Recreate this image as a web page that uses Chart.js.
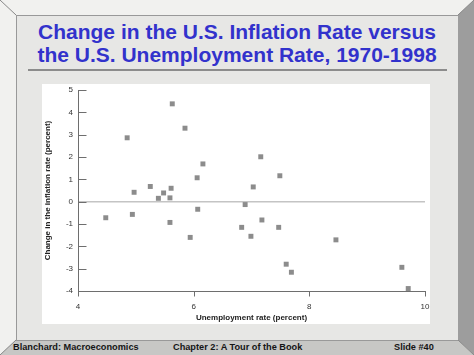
<!DOCTYPE html>
<html>
<head>
<meta charset="utf-8">
<script src="https://cdn.jsdelivr.net/npm/chart.js@4"></script>
<style>
  html, body { margin: 0; padding: 0; }
  body { width: 474px; height: 355px; position: relative; overflow: hidden; background: #efefed; font-family: "Liberation Sans", Arial, sans-serif; }
  #frame { position: absolute; left: 0; top: 0; }
  #title { position: absolute; left: 0; top: 20px; width: 474px; text-align: center; color: #3232cc; font-weight: bold; font-size: 21px; line-height: 23px; }
  #rule { position: absolute; left: 28px; top: 69px; width: 419px; height: 2px; background: #8c8c8c; }
  #box { position: absolute; left: 42px; top: 84px; width: 388px; height: 240px; background: #ffffff; }
  #box canvas { position: absolute; left: 0; top: 0; }
  .foot { position: absolute; top: 342px; font-weight: bold; font-size: 9.2px; color: #151515; white-space: nowrap; }
</style>
</head>
<body>
<svg id="frame" width="474" height="355">
  <rect x="0" y="0" width="474" height="355" fill="#f1f1ef"/>
  <rect x="16" y="15" width="442" height="325" fill="#e7e7e5"/>
  <polygon points="458,15 474,0 474,355 458,340" fill="#9d9d9d"/>
  <polygon points="16,340 458,340 474,355 0,355" fill="#c7c7c5"/>
  <line x1="0" y1="0" x2="16" y2="15" stroke="#888" stroke-width="1"/>
  <line x1="474" y1="0" x2="458" y2="15" stroke="#888" stroke-width="1"/>
  <line x1="0" y1="355" x2="16" y2="340" stroke="#888" stroke-width="1"/>
  <line x1="474" y1="355" x2="458" y2="340" stroke="#888" stroke-width="1"/>
  <line x1="16.5" y1="15" x2="16.5" y2="340" stroke="#999" stroke-width="1"/>
  <line x1="16" y1="15.5" x2="458" y2="15.5" stroke="#999" stroke-width="1"/>
  <line x1="16" y1="340.5" x2="458" y2="340.5" stroke="#999" stroke-width="1"/>
</svg>
<div id="title">Change in the U.S. Inflation Rate versus<br>the U.S. Unemployment Rate, 1970-1998</div>
<div id="rule"></div>
<div id="box"><canvas id="c" width="388" height="240"></canvas></div>
<div class="foot" style="left:13px">Blanchard: Macroeconomics</div>
<div class="foot" style="left:173px">Chapter 2: A Tour of the Book</div>
<div class="foot" style="left:394px">Slide #40</div>
<script>
// Unemployment rate (percent), 1970-1998
const unemploymentRate = [4.48, 4.85, 4.97, 4.94, 5.25, 5.39, 5.48, 5.59, 5.61, 5.63, 5.59, 5.85, 6.06, 6.16, 6.07, 5.94, 6.83, 6.89, 6.99, 7.03, 7.16, 7.49, 7.18, 7.47, 7.60, 7.69, 8.46, 9.60, 9.71];
// Change in the inflation rate (percent)
const inflationChange = [-0.72, 2.86, 0.42, -0.57, 0.68, 0.15, 0.39, 0.17, 0.60, 4.38, -0.93, 3.29, 1.07, 1.69, -0.34, -1.60, -1.15, -0.13, -1.55, 0.66, 2.01, 1.16, -0.82, -1.15, -2.80, -3.16, -1.71, -2.94, -3.89];
const xTicks = [4, 6, 8, 10];
const yTicks = [-4, -3, -2, -1, 0, 1, 2, 3, 4, 5];
const xTitle = 'Unemployment rate (percent)';
const yTitle = 'Change in the inflation rate (percent)';

const points = unemploymentRate.map((x, i) => ({ x: x, y: inflationChange[i] }));

const tickMarks = {
  id: 'tickMarks',
  afterDraw(chart) {
    const ctx = chart.ctx, xs = chart.scales.x, ys = chart.scales.y;
    const ax = Math.round(xs.left) + 0.5, ay = Math.round(ys.bottom) + 0.5;
    ctx.save();
    ctx.strokeStyle = '#6e6e6e';
    ctx.lineWidth = 1;
    ctx.beginPath();
    yTicks.forEach(v => {
      const py = Math.round(ys.getPixelForValue(v)) + 0.5;
      ctx.moveTo(ax, py); ctx.lineTo(ax + 8, py);
    });
    xTicks.forEach(v => {
      const px = Math.round(xs.getPixelForValue(v)) + 0.5;
      ctx.moveTo(px, ay); ctx.lineTo(px, ay + 5);
    });
    ctx.stroke();
    ctx.restore();
  }
};

new Chart(document.getElementById('c'), {
  type: 'scatter',
  data: {
    datasets: [{
      data: points,
      pointStyle: 'rect',
      pointRadius: 3.5,
      pointHoverRadius: 3.5,
      pointBackgroundColor: '#8c8c8c',
      pointBorderWidth: 0,
      borderWidth: 0
    }]
  },
  options: {
    responsive: false,
    animation: false,
    events: [],
    layout: { padding: { left: 0, right: 5, top: 6, bottom: 0 } },
    plugins: { legend: { display: false }, tooltip: { enabled: false } },
    scales: {
      x: {
        type: 'linear', min: 4, max: 10,
        afterFit(s) { s.height = 33; s.paddingLeft = 0; s.paddingRight = 0; },
        afterBuildTicks(s) { s.ticks = xTicks.map(v => ({ value: v })); },
        ticks: { padding: 11, color: '#333', font: { family: 'Liberation Sans', size: 8 } },
        grid: { display: true, drawOnChartArea: false, drawTicks: false },
        border: { display: true, color: '#6e6e6e', width: 1 },
        title: { display: true, text: xTitle, color: '#222', padding: { top: 0, bottom: 1 }, font: { family: 'Liberation Sans', size: 8, weight: 'bold' } }
      },
      y: {
        type: 'linear', min: -4, max: 5,
        afterFit(s) { s.width = 36; s.paddingTop = 0; s.paddingBottom = 0; },
        afterBuildTicks(s) { s.ticks = yTicks.map(v => ({ value: v })); },
        ticks: { padding: 5, color: '#333', font: { family: 'Liberation Sans', size: 8 } },
        grid: {
          display: true, drawOnChartArea: true, drawTicks: false,
          color: c => (c.tick && c.tick.value === 0) ? '#c4c4c4' : 'rgba(0,0,0,0)',
          lineWidth: c => (c.tick && c.tick.value === 0) ? 1.5 : 0
        },
        border: { display: true, color: '#6e6e6e', width: 1 },
        title: { display: true, text: yTitle, color: '#222', padding: { top: 1, bottom: 0 }, font: { family: 'Liberation Sans', size: 8, weight: 'bold' } }
      }
    }
  },
  plugins: [tickMarks]
});
</script>
</body>
</html>
